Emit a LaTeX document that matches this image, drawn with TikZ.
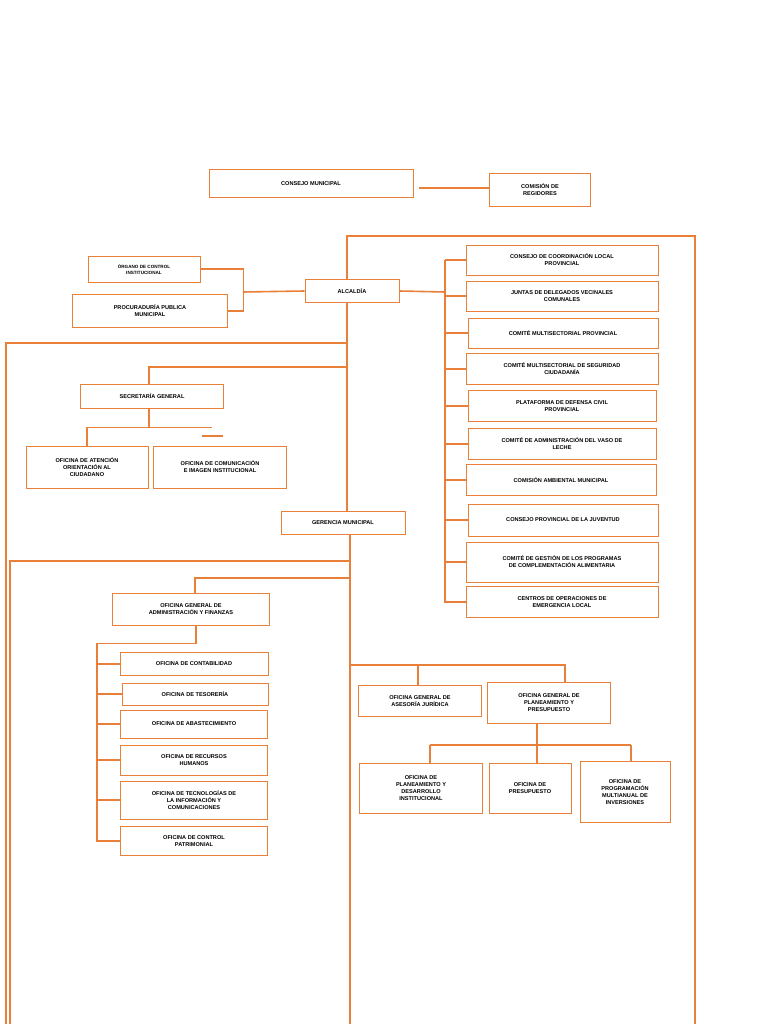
\documentclass[tikz,border=0pt]{standalone}
\usepackage{fontspec}
\setmainfont{Liberation Sans}
\usetikzlibrary{positioning,calc}
\definecolor{naranja}{HTML}{E8803A}
\tikzset{
  box/.style={draw=naranja, line width=1pt, align=center, inner sep=2pt,
    font=\fontsize{5.6}{7}\selectfont\bfseries},
  line/.style={draw=naranja, line width=1.6pt},
}
\begin{document}
\begin{tikzpicture}[x=1pt, y=-1pt]
    \useasboundingbox (0,0) rectangle (768,1024);
    \node[box, minimum width=204, minimum height=28] (cm) at (311,184) {CONSEJO MUNICIPAL};
    \node[box, minimum width=101, minimum height=33] (cr) at (540,190) {COMISIÓN DE\\REGIDORES};
    \node[box, minimum width=94, minimum height=23] (alc) at (352,291) {ALCALDÍA};
    \node[box, minimum width=112, minimum height=26, font=\fontsize{4.6}{6}\selectfont\bfseries] (oci) at (144,269) {ÓRGANO DE CONTROL\\INSTITUCIONAL};
    \node[box, minimum width=155, minimum height=33] (ppm) at (150,311) {PROCURADURÍA PUBLICA\\MUNICIPAL};

    % organos de la derecha
    \node[box, minimum width=192, minimum height=30] (r1) at (562,260) {CONSEJO DE COORDINACIÓN LOCAL\\PROVINCIAL};
    \node[box, minimum width=192, minimum height=30] (r2) at (562,296) {JUNTAS DE DELEGADOS VECINALES\\COMUNALES};
    \node[box, minimum width=190, minimum height=30] (r3) at (563,333) {COMITÉ MULTISECTORIAL PROVINCIAL};
    \node[box, minimum width=192, minimum height=31] (r4) at (562,369) {COMITÉ MULTISECTORIAL DE SEGURIDAD\\CIUDADANÍA};
    \node[box, minimum width=188, minimum height=31] (r5) at (562,406) {PLATAFORMA DE DEFENSA CIVIL\\PROVINCIAL};
    \node[box, minimum width=188, minimum height=31] (r6) at (562,444) {COMITÉ DE ADMINISTRACIÓN DEL VASO DE\\LECHE};
    \node[box, minimum width=190, minimum height=31] (r7) at (561,480) {COMISIÓN AMBIENTAL MUNICIPAL};
    \node[box, minimum width=190, minimum height=32] (r8) at (563,520) {CONSEJO PROVINCIAL DE LA JUVENTUD};
    \node[box, minimum width=192, minimum height=40] (r9) at (562,562) {COMITÉ DE GESTIÓN DE LOS PROGRAMAS\\DE COMPLEMENTACIÓN ALIMENTARIA};
    \node[box, minimum width=192, minimum height=31] (r10) at (562,602) {CENTROS DE OPERACIONES DE\\EMERGENCIA LOCAL};

    \node[box, minimum width=143, minimum height=24] (sg) at (152,396) {SECRETARÍA GENERAL};
    \node[box, minimum width=122, minimum height=42] (oac) at (87,467) {OFICINA DE ATENCIÓN\\ORIENTACIÓN AL\\CIUDADANO};
    \node[box, minimum width=133, minimum height=42] (oci2) at (220,467) {OFICINA DE COMUNICACIÓN\\E IMAGEN INSTITUCIONAL};
    \node[box, minimum width=124, minimum height=23] (gm) at (343,523) {GERENCIA MUNICIPAL};

    \node[box, minimum width=157, minimum height=32] (ogaf) at (191,609) {OFICINA GENERAL DE\\ADMINISTRACIÓN Y FINANZAS};
    \node[box, minimum width=148, minimum height=23] (a1) at (194,664) {OFICINA DE CONTABILIDAD};
    \node[box, minimum width=146, minimum height=22] (a2) at (195,694) {OFICINA DE TESORERÍA};
    \node[box, minimum width=147, minimum height=28] (a3) at (194,724) {OFICINA DE ABASTECIMIENTO};
    \node[box, minimum width=147, minimum height=30] (a4) at (194,760) {OFICINA DE RECURSOS\\HUMANOS};
    \node[box, minimum width=147, minimum height=38] (a5) at (194,800) {OFICINA DE TECNOLOGÍAS DE\\LA INFORMACIÓN Y\\COMUNICACIONES};
    \node[box, minimum width=147, minimum height=29] (a6) at (194,841) {OFICINA DE CONTROL\\PATRIMONIAL};

    \node[box, minimum width=123, minimum height=31] (ogaj) at (420,701) {OFICINA GENERAL DE\\ASESORÍA JURÍDICA};
    \node[box, minimum width=123, minimum height=41] (ogpp) at (549,703) {OFICINA GENERAL DE\\PLANEAMIENTO Y\\PRESUPUESTO};
    \node[box, minimum width=123, minimum height=50] (opdi) at (421,788) {OFICINA DE\\PLANEAMIENTO Y\\DESARROLLO\\INSTITUCIONAL};
    \node[box, minimum width=82, minimum height=50] (op) at (530,788) {OFICINA DE\\PRESUPUESTO};
    \node[box, minimum width=90, minimum height=61] (opmi) at (625,792) {OFICINA DE\\PROGRAMACIÓN\\MULTIANUAL DE\\INVERSIONES};

    \coordinate (top) at (347,236);
    \coordinate (frr) at (695,1024);
    \coordinate (fl1) at (6,1024);
    \coordinate (fl2) at (10,1024);
    \coordinate (bot) at (350,1024);

    \draw[line] (cm.east) ++(5,4) -- (cr.west |- 0,188);
    \draw[line] ($(alc.north)+(-5,0)$) -- (top) -- (frr |- top) -- (frr);
    \draw[line] (oci.east) -- ++(43,0) |- (ppm.east);
    \draw[line] (alc.west) -- (243,292);
    \draw[line] (alc.east) -- (445,292);
    \draw[line] (445,260) -- (r10.west -| 445,0) -- (r10.west);
    \foreach \r in {r1,r2,r3,r4,r5,r6,r7,r8,r9}
      \draw[line] (445,0 |- \r.west) -- (\r.west);
    \draw[line] ($(alc.south)+(-5,0)$) -- ($(gm.north)+(4,0)$);
    \draw[line] (347,343) -| (fl1);
    \draw[line] (347,367) -| ($(sg.north)+(-3,0)$);
    \draw[line] ($(sg.south)+(-3,0)$) -- ++(0,19) coordinate (sgb);
    \draw[line] (212,0 |- sgb) -| (oac.north);
    \draw[line] (202,436) -- (223,436);
    \draw[line] ($(gm.south)+(7,0)$) -- (bot);
    \draw[line] (350,561) -| (fl2);
    \draw[line] (350,578) -| ($(ogaf.north)+(4,0)$);
    \draw[line] ($(ogaf.south)+(5,0)$) -- ++(0,18) -| (97,842);
    \foreach \a in {a1,a2,a3,a4,a5,a6}
      \draw[line] (97,0 |- \a.west) -- (\a.west);
    \draw[line] (350,665) -| (ogpp.north -| 565,0);
    \draw[line] (418,665) -- (ogaj.north -| 418,0);
    \draw[line] ($(ogpp.south)+(-12,0)$) -- (op.north -| 537,0);
    \draw[line] (430,745) -- (631,745);
    \draw[line] (430,745) -- (opdi.north -| 430,0);
    \draw[line] (631,745) -- (opmi.north -| 631,0);
\end{tikzpicture}
\end{document}
